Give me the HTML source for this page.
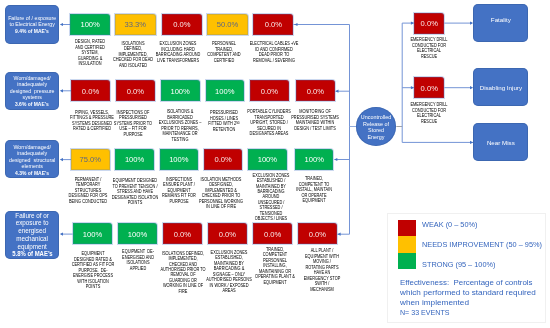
<!DOCTYPE html>
<html><head><meta charset="utf-8"><style>
*{margin:0;padding:0;box-sizing:border-box}
html,body{width:550px;height:328px;overflow:hidden;background:#fff}
body{position:relative;font-family:"Liberation Sans",sans-serif}
#wrap{position:absolute;left:0;top:0;width:550px;height:328px}
.cb{position:absolute;border-radius:0 3px 0 0;box-shadow:0 0 0 1px rgba(68,114,196,0.28), inset 0 0 0 1px rgba(68,114,196,0.22);text-align:center;font-size:7.6px;white-space:nowrap}
.cb span{display:inline-block;position:relative;top:0.7px}
.lb{position:absolute;text-align:center;font-size:4.6px;line-height:5.48px;color:#000;white-space:nowrap;transform:scaleX(0.845);transform-origin:50% 0}
.lb sup{font-size:2.9px;vertical-align:1.4px;line-height:0;margin-left:0.2px}
.lbx{position:absolute;background:#4472C4;border-radius:5px;box-shadow:inset 0 0 0 1px rgba(47,82,143,0.35)}
.lbt{position:absolute;text-align:center;color:#fff;white-space:nowrap}
.lbt b{display:inline-block;transform:scaleX(0.945)}
.ob{position:absolute;background:#4472C4;border-radius:5px;box-shadow:inset 0 0 0 1px rgba(47,82,143,0.35)}
.obt{position:absolute;color:#fff;text-align:center;font-size:6.2px;line-height:10px;white-space:nowrap}
.circ{position:absolute;background:#4472C4;border-radius:50%;box-shadow:inset 0 0 0 1px rgba(47,82,143,0.3)}
.ct{position:absolute;text-align:center;color:#fff;font-size:5.8px;line-height:6.4px;white-space:nowrap;transform:scaleX(0.93);transform-origin:50% 0}
.lg{position:absolute;border:1px solid #f0f0f0}
.lgt{position:absolute;color:#3565bd;font-size:7.8px;line-height:10px;white-space:nowrap;transform-origin:0 0}
</style></head><body><div id="wrap">
<svg width="550" height="328" style="position:absolute;left:0;top:0"><line x1="70" y1="24.5" x2="61" y2="24.5" stroke="#7494d6" stroke-width="1.0"/><polygon points="59.8,24.5 63.0,22.9 63.0,26.1" fill="#4472C4"/><line x1="71" y1="90.8" x2="61" y2="90.8" stroke="#7494d6" stroke-width="1.0"/><polygon points="59.8,90.8 63.0,89.2 63.0,92.4" fill="#4472C4"/><line x1="71" y1="159.6" x2="61" y2="159.6" stroke="#7494d6" stroke-width="1.0"/><polygon points="59.8,159.6 63.0,158.0 63.0,161.2" fill="#4472C4"/><line x1="72.6" y1="234.1" x2="61" y2="234.1" stroke="#7494d6" stroke-width="1.0"/><polygon points="59.8,234.1 63.0,232.5 63.0,235.7" fill="#4472C4"/><polyline points="293.5,24.5 349.5,24.5 349.5,234.2 337.5,234.2" fill="none" stroke="#7494d6" stroke-width="1.0"/><polygon points="294.3,24.5 297.5,22.9 297.5,26.1" fill="#4472C4"/><polygon points="337.4,234.2 340.6,232.6 340.6,235.8" fill="#4472C4"/><line x1="349.5" y1="91.2" x2="335.7" y2="91.2" stroke="#7494d6" stroke-width="1.0"/><polygon points="335.3,91.2 338.5,89.6 338.5,92.8" fill="#4472C4"/><line x1="349.5" y1="159.5" x2="334.5" y2="159.5" stroke="#7494d6" stroke-width="1.0"/><polygon points="334.1,159.5 337.3,157.9 337.3,161.1" fill="#4472C4"/><line x1="349.5" y1="126.5" x2="356.5" y2="126.5" stroke="#8faadc" stroke-width="1.0"/><line x1="396.3" y1="126.5" x2="402.2" y2="126.5" stroke="#9a9a9a" stroke-width="0.9"/><polyline points="413.5,23.1 402.2,23.1 402.2,142.4 473,142.4" fill="none" stroke="#7494d6" stroke-width="1.0"/><line x1="402.2" y1="87.7" x2="413.5" y2="87.7" stroke="#7494d6" stroke-width="1.0"/><polygon points="414.1,23.1 410.9,21.5 410.9,24.7" fill="#4472C4"/><polygon points="414.1,87.7 410.9,86.1 410.9,89.3" fill="#4472C4"/><polygon points="473.2,142.4 470.0,140.8 470.0,144.0" fill="#4472C4"/><line x1="444.4" y1="23.1" x2="472" y2="23.1" stroke="#7494d6" stroke-width="1.0"/><polygon points="473.2,23.1 470.0,21.5 470.0,24.7" fill="#4472C4"/><line x1="444.4" y1="87.7" x2="472" y2="87.7" stroke="#7494d6" stroke-width="1.0"/><polygon points="473.2,87.7 470.0,86.1 470.0,89.3" fill="#4472C4"/></svg>
<div class="cb" style="left:70.0px;top:13.7px;width:40.3px;height:21.1px;background:#00B050;color:#ffffff;line-height:21.1px"><span>100%</span></div>
<div class="cb" style="left:115.1px;top:13.7px;width:40.5px;height:21.1px;background:#FFC000;color:#5d6682;line-height:21.1px"><span>33.3%</span></div>
<div class="cb" style="left:161.8px;top:13.7px;width:40.1px;height:21.1px;background:#C00000;color:#f8e8e8;line-height:21.1px"><span>0.0%</span></div>
<div class="cb" style="left:207.3px;top:13.7px;width:40.6px;height:21.1px;background:#FFC000;color:#5d6682;line-height:21.1px"><span>50.0%</span></div>
<div class="cb" style="left:253.4px;top:13.7px;width:40.1px;height:21.1px;background:#C00000;color:#f8e8e8;line-height:21.1px"><span>0.0%</span></div>
<div class="cb" style="left:71.0px;top:80.3px;width:39.0px;height:21.2px;background:#C00000;color:#f8e8e8;line-height:21.2px"><span>0.0%</span></div>
<div class="cb" style="left:116.0px;top:80.3px;width:38.8px;height:21.2px;background:#C00000;color:#f8e8e8;line-height:21.2px"><span>0.0%</span></div>
<div class="cb" style="left:160.7px;top:80.3px;width:38.9px;height:21.2px;background:#00B050;color:#ffffff;line-height:21.2px"><span>100%</span></div>
<div class="cb" style="left:205.6px;top:80.3px;width:38.4px;height:21.2px;background:#00B050;color:#ffffff;line-height:21.2px"><span>100%</span></div>
<div class="cb" style="left:250.0px;top:80.3px;width:38.9px;height:21.2px;background:#C00000;color:#f8e8e8;line-height:21.2px"><span>0.0%</span></div>
<div class="cb" style="left:296.0px;top:80.3px;width:38.7px;height:21.2px;background:#C00000;color:#f8e8e8;line-height:21.2px"><span>0.0%</span></div>
<div class="cb" style="left:71.0px;top:149.1px;width:38.5px;height:20.9px;background:#FFC000;color:#5d6682;line-height:20.9px"><span>75.0%</span></div>
<div class="cb" style="left:115.3px;top:149.1px;width:38.6px;height:20.9px;background:#00B050;color:#ffffff;line-height:20.9px"><span>100%</span></div>
<div class="cb" style="left:159.6px;top:149.1px;width:38.5px;height:20.9px;background:#00B050;color:#ffffff;line-height:20.9px"><span>100%</span></div>
<div class="cb" style="left:204.0px;top:149.1px;width:38.3px;height:20.9px;background:#C00000;color:#f8e8e8;line-height:20.9px"><span>0.0%</span></div>
<div class="cb" style="left:248.2px;top:149.1px;width:38.4px;height:20.9px;background:#00B050;color:#ffffff;line-height:20.9px"><span>100%</span></div>
<div class="cb" style="left:294.9px;top:149.1px;width:38.6px;height:20.9px;background:#00B050;color:#ffffff;line-height:20.9px"><span>100%</span></div>
<div class="cb" style="left:72.6px;top:223.4px;width:39.7px;height:21.0px;background:#00B050;color:#ffffff;line-height:21.0px"><span>100%</span></div>
<div class="cb" style="left:117.9px;top:223.4px;width:39.1px;height:21.0px;background:#00B050;color:#ffffff;line-height:21.0px"><span>100%</span></div>
<div class="cb" style="left:162.9px;top:223.4px;width:39.1px;height:21.0px;background:#C00000;color:#f8e8e8;line-height:21.0px"><span>0.0%</span></div>
<div class="cb" style="left:207.8px;top:223.4px;width:39.3px;height:21.0px;background:#C00000;color:#f8e8e8;line-height:21.0px"><span>0.0%</span></div>
<div class="cb" style="left:253.4px;top:223.4px;width:38.6px;height:21.0px;background:#C00000;color:#f8e8e8;line-height:21.0px"><span>0.0%</span></div>
<div class="cb" style="left:298.0px;top:223.4px;width:38.8px;height:21.0px;background:#C00000;color:#f8e8e8;line-height:21.0px"><span>0.0%</span></div>
<div class="cb" style="left:414.1px;top:12.5px;width:30.3px;height:21.1px;background:#C00000;color:#f8e8e8;line-height:21.1px"><span>0.0%</span></div>
<div class="cb" style="left:414.1px;top:77.0px;width:30.3px;height:21.0px;background:#C00000;color:#f8e8e8;line-height:21.0px"><span>0.0%</span></div>
<div class="lb" style="left:50.2px;top:39.36px;width:80px">DESIGN, RATED<br>AND CERTIFIED<br>SYSTEM,<br>GUARDING &amp;<br>INSULATION</div>
<div class="lb" style="left:93.0px;top:40.96px;width:80px">ISOLATIONS<br>DEFINED,<br>IMPLEMENTED,<br>CHECKED FOR DEAD<br>AND ISOLATED</div>
<div class="lb" style="left:137.7px;top:41.46px;width:80px">EXCLUSION ZONES<br>INCLUDING HARD<br>BARRICADING AROUND<br>LIVE TRANSFORMERS</div>
<div class="lb" style="left:184.0px;top:41.46px;width:80px">PERSONNEL<br>TRAINED,<br>COMPETENT AND<br>CERTIFIED</div>
<div class="lb" style="left:234.1px;top:41.46px;width:80px">ELECTRICAL CABLES +VE<br>ID AND CONFIRMED<br>DEAD PRIOR TO<br>REMOVAL / SEVERING</div>
<div class="lb" style="left:51.5px;top:109.66px;width:80px">PIPING, VESSELS,<br>FITTINGS &amp; PRESSURE<br>SYSTEMS DESIGNED<br>RATED &amp; CERTIFIED</div>
<div class="lb" style="left:92.9px;top:109.66px;width:80px">INSPECTIONS OF<br>PRESSURISED<br>SYSTEMS PRIOR TO<br>USE – FIT FOR<br>PURPOSE</div>
<div class="lb" style="left:140.3px;top:109.46px;width:80px">ISOLATIONS &amp;<br>BARRICADED<br>EXCLUSIONS ZONES –<br>PRIOR TO REPAIRS,<br>MAINTENANCE OR<br>TESTING</div>
<div class="lb" style="left:184.0px;top:110.06px;width:80px">PRESSURISED<br>HOSES / LINES<br>FITTED WITH 2<sup>ND</sup><br>RETENTION</div>
<div class="lb" style="left:228.5px;top:109.16px;width:80px">PORTABLE CYLINDERS<br>TRANSPORTED<br>UPRIGHT, STORED /<br>SECURED IN<br>DESIGNATES AREAS</div>
<div class="lb" style="left:274.8px;top:109.16px;width:80px">MONITORING OF<br>PRESSURISED SYSTEMS<br>MAINTAINED WITHIN<br>DESIGN / TEST LIMITS</div>
<div class="lb" style="left:48.4px;top:176.86px;width:80px">PERMANENT /<br>TEMPORARY<br>STRUCTURES<br>DESIGNED FOR OPS<br>BEING CONDUCTED</div>
<div class="lb" style="left:95.3px;top:178.46px;width:80px">EQUIPMENT DESIGNED<br>TO PREVENT TENSION /<br>STRESS AND HAVE<br>DESIGNATED ISOLATION<br>POINTS</div>
<div class="lb" style="left:139.1px;top:176.86px;width:80px">INSPECTIONS<br>ENSURE PLANT /<br>EQUIPMENT<br>REMAINS FIT FOR<br>PURPOSE</div>
<div class="lb" style="left:181.0px;top:176.86px;width:80px">ISOLATION METHODS<br>DESFIGNED,<br>IMPLEMENTED &amp;<br>CHECKED PRIOR TO<br>PERSONNEL WORKING<br>IN LINE OF FIRE</div>
<div class="lb" style="left:230.6px;top:172.56px;width:80px">EXCLUSION ZONES<br>ESTABLISHED /<br>MAINTAINED BY<br>BARRICADING<br>AROUND<br>UNSECURED /<br>STRESSED /<br>TENSIONED<br>OBJECTS / LINES</div>
<div class="lb" style="left:274.1px;top:176.46px;width:80px">TRAINED,<br>COMPETENT TO<br>INSTALL, MAINTAIN<br>OR OPERATE<br>EQUIPMENT</div>
<div class="lb" style="left:53.0px;top:251.16px;width:80px">EQUIPMENT<br>DESIGNED RATED &amp;<br>CERTIFIED AS FIT FOR<br>PURPOSE.&nbsp; DE-<br>ENERGISE PROCESS<br>WITH ISOLATION<br>POINTS</div>
<div class="lb" style="left:98.4px;top:249.36px;width:80px">EQUIPMENT&nbsp; DE-<br>ENERGISED AND<br>ISOLATIONS<br>APPLIED</div>
<div class="lb" style="left:142.7px;top:250.56px;width:80px">ISOLATIONS DEFINED,<br>IMPLEMENTED,<br>CHECKED AND<br>AUTHORISED PRIOR TO<br>REMOVAL OF<br>GUARDING OR<br>WORKING IN LINE OF<br>FIRE</div>
<div class="lb" style="left:188.6px;top:249.86px;width:80px">EXCLUSION ZONES<br>ESTABLISHED,<br>MAINTAINED BY<br>BARRICADING &amp;<br>SIGNAGE – ONLY<br>AUTHORISED PERSONS<br>IN WORK / EXPOSED<br>AREAS</div>
<div class="lb" style="left:234.6px;top:246.96px;width:80px">TRAINED,<br>COMPETENT<br>PERSONNEL<br>INSTALLING,<br>MAINTAINING OR<br>OPERATING PLANT &amp;<br>EQUIPMENT</div>
<div class="lb" style="left:281.6px;top:248.46px;width:80px">ALL PLANT /<br>EQUIPMENT WITH<br>MOVING /<br>ROTATING PARTS<br>HAVE AN<br>EMERGENCY STOP<br>SWITH /<br>MECHANISM</div>
<div class="lb" style="left:389.3px;top:37.36px;width:80px">EMERGENCY DRILL<br>CONDUCTED FOR<br>ELECTRICAL<br>RESCUE</div>
<div class="lb" style="left:389.3px;top:102.16px;width:80px">EMERGENCY DRILL<br>CONDUCTED FOR<br>ELECTRICAL<br>RESCUE</div>
<div class="lbx" style="left:4.9px;top:5.0px;width:54.5px;height:38.8px"></div>
<div class="lbt" style="left:4.9px;top:14.70px;width:54.5px;font-size:5.27px;line-height:6.4px">Failure of / exposure<br>to Electrical Energy<br><b>9.4% of MAE’s</b></div>
<div class="lbx" style="left:4.9px;top:71.7px;width:54.6px;height:38.1px"></div>
<div class="lbt" style="left:4.9px;top:74.70px;width:54.6px;font-size:5.25px;line-height:6.6px">Worn/damaged/<br>inadequately<br>designed&nbsp; pressure<br>systems<br><b>3.6% of MAE’s</b></div>
<div class="lbx" style="left:4.9px;top:140.4px;width:54.6px;height:38.0px"></div>
<div class="lbt" style="left:4.9px;top:143.62px;width:54.6px;font-size:5.3px;line-height:6.55px">Worn/damaged/<br>inadequately<br>designed&nbsp; structural<br>elements<br><b>4.3% of MAE’s</b></div>
<div class="lbx" style="left:4.7px;top:210.5px;width:54.8px;height:48.0px"></div>
<div class="lbt" style="left:4.7px;top:211.53px;width:54.8px;font-size:6.3px;line-height:7.75px">Failure of or<br>exposure to<br>energised<br>mechanical<br>equipment<br><b>5.8% of MAE’s</b></div>
<div class="ob" style="left:473.3px;top:4.1px;width:55.1px;height:37.8px"></div>
<div class="obt" style="left:473.3px;top:14.7px;width:55.1px">Fatality</div>
<div class="ob" style="left:473.3px;top:68.4px;width:55.1px;height:38.0px"></div>
<div class="obt" style="left:473.3px;top:83.0px;width:55.1px">Disabling Injury</div>
<div class="ob" style="left:473.3px;top:123.4px;width:55.1px;height:38.0px"></div>
<div class="obt" style="left:473.3px;top:138.0px;width:55.1px">Near Miss</div>
<div class="circ" style="left:356px;top:107.3px;width:40.3px;height:38.4px"></div>
<div class="ct" style="left:346px;top:114.3px;width:60px">Uncontrolled<br>Release of<br>Stored<br>Energy</div>
<div class="lg" style="left:387.4px;top:213.2px;width:158.8px;height:110.2px"></div>
<div style="position:absolute;left:397.7px;top:220.0px;width:18.1px;height:16.0px;background:#C00000"></div>
<div style="position:absolute;left:397.7px;top:236.0px;width:18.1px;height:16.6px;background:#FFC000"></div>
<div style="position:absolute;left:397.7px;top:252.6px;width:18.1px;height:16.0px;background:#00B050"></div>
<div class="lgt" style="left:422.0px;top:220.0px;transform:scaleX(0.941)">WEAK (0 – 50%)</div>
<div class="lgt" style="left:422.0px;top:239.5px;transform:scaleX(0.943)">NEEDS IMPROVEMENT (50 – 95%)</div>
<div class="lgt" style="left:422.0px;top:259.6px;transform:scaleX(0.942)">STRONG (95 – 100%)</div>
<div class="lgt" style="left:400.0px;top:278.4px;transform:scaleX(1.014)">Effectiveness:&nbsp; Percentage of controls</div>
<div class="lgt" style="left:400.0px;top:288.1px;transform:scaleX(1.048)">which performed to standard required</div>
<div class="lgt" style="left:400.0px;top:297.8px;transform:scaleX(1.054)">when implemented</div>
<div class="lgt" style="left:400.0px;top:307.5px;transform:scaleX(0.910)">N= 33 EVENTS</div>
</div></body></html>
